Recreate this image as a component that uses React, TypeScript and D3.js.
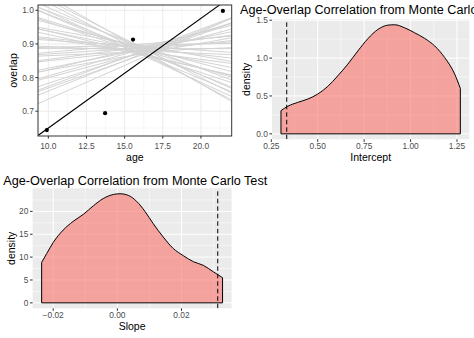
import React from "react";
import * as d3 from "d3";

// Observed data
const ages = [9.9, 13.72, 15.55, 21.44];
const overlaps = [0.644, 0.694, 0.913, 0.998];
const fitIntercept = 0.324;
const fitSlope = 0.0326;

// Monte Carlo lines
const mcSlopes = [-0.026, -0.024, -0.023, -0.021, -0.02, -0.018, -0.017, -0.015, -0.014, -0.012, -0.011, -0.009, -0.008, -0.006, -0.005, -0.003, -0.002, 0.0, -0.01, -0.019,
  0.001, 0.002, 0.003, 0.004, 0.005, 0.006, 0.008, 0.009, 0.011, 0.012, 0.013, 0.015, 0.016, 0.017, 0.018, 0.02];
const mcIntercepts = [1.301, 1.262, 1.26, 1.206, 1.208, 1.168, 1.167, 1.115, 1.109, 1.082, 1.048, 1.028, 1.024, 0.974, 0.968, 0.941, 0.912, 0.886, 1.028, 1.176,
  0.88, 0.845, 0.84, 0.835, 0.8, 0.794, 0.742, 0.738, 0.713, 0.68, 0.675, 0.633, 0.609, 0.604, 0.58, 0.536];

// Intercept density
const intX = [0.302, 0.338, 0.392, 0.446, 0.5, 0.554, 0.608, 0.662, 0.716, 0.77, 0.824, 0.878, 0.914, 0.968, 1.022, 1.076, 1.13, 1.184, 1.238, 1.268];
const intY = [0.306, 0.363, 0.415, 0.459, 0.525, 0.626, 0.766, 0.92, 1.094, 1.256, 1.378, 1.435, 1.44, 1.4, 1.334, 1.26, 1.16, 1.006, 0.787, 0.6];
const obsIntercept = 0.333;

// Slope density
const slpX = [-0.0236, -0.022, -0.02, -0.0169, -0.0138, -0.0106, -0.0075, -0.0044, -0.0012, 0.0008, 0.0034, 0.006, 0.0086, 0.0112, 0.0143, 0.0174, 0.0206, 0.0237, 0.0268, 0.0299, 0.0328];
const slpY = [8.85, 10.8, 13.2, 15.9, 17.8, 19.35, 21.2, 22.8, 23.7, 23.85, 23.5, 22.2, 20.0, 17.3, 14.4, 11.9, 10.3, 9.0, 8.2, 6.8, 5.5];
const obsSlope = 0.0313;

const ageTicks = [10, 12.5, 15, 17.5, 20];
const overlapTicks = [0.7, 0.8, 0.9, 1.0];
const intXTicks = [0.25, 0.5, 0.75, 1.0, 1.25];
const intYTicks = [0, 0.5, 1.0, 1.5];
const slpXTicks = [-0.02, 0, 0.02];
const slpYTicks = [0, 5, 10, 15, 20];
const title = "Age-Overlap Correlation from Monte Carlo Test";

const FONT = "'Liberation Sans', Arial, Helvetica, sans-serif";
const TICK = 8.4;
const AXT = 10.5;
const TTL = 12.65;

function expand(vals: number[], add0 = false): [number, number] {
  const lo = add0 ? Math.min(0, d3.min(vals)!) : d3.min(vals)!;
  const hi = d3.max(vals)!;
  const r = hi - lo;
  return [lo - 0.05 * r, hi + 0.05 * r];
}

function mids(ticks: number[], dom: [number, number]) {
  const step = ticks[1] - ticks[0];
  const out: number[] = [];
  for (let t = ticks[0] - step / 2; t <= dom[1]; t += step) if (t >= dom[0]) out.push(t);
  return out;
}

function Axes({ x, y, xt, yt, xfmt, yfmt, xLabelY, xTitle, yTitle, xTitleY, yTitleX }: any) {
  const [x0, x1] = x.range();
  const [y0, y1] = y.range();
  return (
    <g fontFamily={FONT}>
      {xt.map((t: number) => (
        <g key={"xt" + t}>
          <line x1={x(t)} x2={x(t)} y1={y0} y2={y0 + 2.6} stroke="#333333" strokeWidth={1} />
          <text x={x(t)} y={xLabelY} fontSize={TICK} fill="#4d4d4d" textAnchor="middle">{xfmt(t)}</text>
        </g>
      ))}
      {yt.map((t: number) => (
        <g key={"yt" + t}>
          <line x1={x0 - 2.6} x2={x0} y1={y(t)} y2={y(t)} stroke="#333333" strokeWidth={1} />
          <text x={x0 - 4.2} y={y(t) + 3} fontSize={TICK} fill="#4d4d4d" textAnchor="end">{yfmt(t)}</text>
        </g>
      ))}
      <text x={(x0 + x1) / 2} y={xTitleY} fontSize={AXT} textAnchor="middle" fill="#000">{xTitle}</text>
      <text transform={`translate(${yTitleX},${(y0 + y1) / 2}) rotate(-90)`} fontSize={AXT} textAnchor="middle" fill="#000">{yTitle}</text>
    </g>
  );
}

function ScatterPanel() {
  const xd = expand(ages);
  const yd = expand(overlaps);
  const x = d3.scaleLinear().domain(xd).range([38, 231.7]);
  const y = d3.scaleLinear().domain(yd).range([136, 5]);
  const [x0, x1] = x.range();
  const [y0, y1] = y.range();
  const xm = mids(ageTicks, xd);
  const ym = mids(overlapTicks, yd);
  const line = (a: number, b: number) =>
    d3.line<number>().x((v) => x(v)).y((v) => y(a + b * v))(xd as any) as string;
  return (
    <g>
      <defs>
        <clipPath id="c1"><rect x={x0} y={y1} width={x1 - x0} height={y0 - y1} /></clipPath>
      </defs>
      <rect x={x0} y={y1} width={x1 - x0} height={y0 - y1} fill="#fff" />
      {xm.map((t) => <line key={"xm" + t} x1={x(t)} x2={x(t)} y1={y0} y2={y1} stroke="#f2f2f2" strokeWidth={0.6} />)}
      {ym.map((t) => <line key={"ym" + t} x1={x0} x2={x1} y1={y(t)} y2={y(t)} stroke="#f2f2f2" strokeWidth={0.6} />)}
      {ageTicks.map((t) => <line key={"xg" + t} x1={x(t)} x2={x(t)} y1={y0} y2={y1} stroke="#ebebeb" strokeWidth={1} />)}
      {overlapTicks.map((t) => <line key={"yg" + t} x1={x0} x2={x1} y1={y(t)} y2={y(t)} stroke="#ebebeb" strokeWidth={1} />)}
      <g clipPath="url(#c1)">
        {mcSlopes.map((s, i) => (
          <path key={"mc" + i} d={line(mcIntercepts[i], s)} stroke="#d3d3d3" strokeWidth={1} fill="none" />
        ))}
        <path d={line(fitIntercept, fitSlope)} stroke="#000" strokeWidth={1.1} fill="none" />
        {ages.map((a, i) => <circle key={"p" + i} cx={x(a)} cy={y(overlaps[i])} r={2.1} fill="#000" />)}
      </g>
      <rect x={x0} y={y1} width={x1 - x0} height={y0 - y1} fill="none" stroke="#333333" strokeWidth={1} />
      <Axes x={x} y={y} xt={ageTicks} yt={overlapTicks} xfmt={d3.format(".1f")} yfmt={d3.format(".1f")}
        xLabelY={148.8} xTitle="age" yTitle="overlap" xTitleY={160.5} yTitleX={16.5} />
    </g>
  );
}

function DensityPanel({ xs, ys, xr, yr, xt, yt, xfmt, yfmt, vline, xTitle, id, xLabelY, xTitleY, yTitleX, titleX, titleY }: any) {
  const xd = expand(xs);
  const yd = expand(ys, true);
  const x = d3.scaleLinear().domain(xd).range(xr);
  const y = d3.scaleLinear().domain(yd).range(yr);
  const [x0, x1] = xr;
  const [y0, y1] = yr;
  const xm = mids(xt, xd);
  const ym = mids(yt, yd);
  const pts: [number, number][] = xs.map((v: number, i: number) => [v, ys[i]]);
  const curve = d3.line<[number, number]>().x((d) => x(d[0])).y((d) => y(d[1])).curve(d3.curveMonotoneX)(pts) as string;
  const area = `M${x(xs[0])},${y(0)}L${curve.slice(1)}L${x(xs[xs.length - 1])},${y(0)}Z`;
  return (
    <g>
      <defs>
        <clipPath id={id}><rect x={x0} y={y1} width={x1 - x0} height={y0 - y1} /></clipPath>
      </defs>
      <rect x={x0} y={y1} width={x1 - x0} height={y0 - y1} fill="#ebebeb" />
      {xm.map((t: number) => <line key={"xm" + t} x1={x(t)} x2={x(t)} y1={y0} y2={y1} stroke="#fff" strokeWidth={0.5} />)}
      {ym.map((t: number) => <line key={"ym" + t} x1={x0} x2={x1} y1={y(t)} y2={y(t)} stroke="#fff" strokeWidth={0.5} />)}
      {xt.map((t: number) => <line key={"xg" + t} x1={x(t)} x2={x(t)} y1={y0} y2={y1} stroke="#fff" strokeWidth={1} />)}
      {yt.map((t: number) => <line key={"yg" + t} x1={x0} x2={x1} y1={y(t)} y2={y(t)} stroke="#fff" strokeWidth={1} />)}
      <g clipPath={`url(#${id})`}>
        <path d={area} fill="#F8766D" fillOpacity={0.62} stroke="#000" strokeWidth={1} strokeLinejoin="round" />
        <line x1={x(vline)} x2={x(vline)} y1={y0} y2={y1} stroke="#000" strokeWidth={1} strokeDasharray="4.5,3" />
      </g>
      <Axes x={x} y={y} xt={xt} yt={yt} xfmt={xfmt} yfmt={yfmt}
        xLabelY={xLabelY} xTitle={xTitle} yTitle="density" xTitleY={xTitleY} yTitleX={yTitleX} />
      <text x={titleX} y={titleY} fontFamily={FONT} fontSize={TTL} fill="#000">{title}</text>
    </g>
  );
}

export default function App() {
  return (
    <svg width={474} height={338} style={{ position: "absolute", left: 0, top: 0, background: "#fff" }}>
      <rect width={474} height={338} fill="#fff" />
      <ScatterPanel />
      <DensityPanel id="c2" xs={intX} ys={intY} xr={[272, 469.3]} yr={[139.3, 19.3]} xt={intXTicks} yt={intYTicks}
        xfmt={d3.format(".2f")} yfmt={d3.format(".1f")} vline={obsIntercept} xTitle="Intercept"
        xLabelY={148.8} xTitleY={160.8} yTitleX={250} titleX={240} titleY={14} />
      <DensityPanel id="c3" xs={slpX} ys={slpY} xr={[32.6, 231.6]} yr={[308.3, 188.3]} xt={slpXTicks} yt={slpYTicks}
        xfmt={(v: number) => (v === 0 ? "0.00" : d3.format(".2f")(v))} yfmt={d3.format("d")} vline={obsSlope} xTitle="Slope"
        xLabelY={317.7} xTitleY={330} yTitleX={15} titleX={3.3} titleY={184.7} />
    </svg>
  );
}
